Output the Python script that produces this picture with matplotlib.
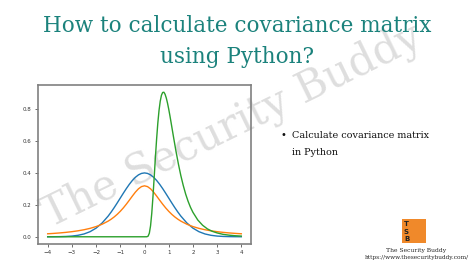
import matplotlib
matplotlib.use("Agg")
import matplotlib.pyplot as plt
from matplotlib.patches import Rectangle

TEAL = "#1b827c"

# x positions where the blue / orange curves were read
x_sym = [-4, -3.75, -3.5, -3.25, -3, -2.75, -2.5, -2.25, -2, -1.75, -1.5, -1.375, -1.25, -1.125, -1,
         -0.875, -0.75, -0.625, -0.5, -0.375, -0.25, -0.125, 0, 0.125, 0.25, 0.375, 0.5, 0.625, 0.75,
         0.875, 1, 1.125, 1.25, 1.375, 1.5, 1.75, 2, 2.25, 2.5, 2.75, 3, 3.25, 3.5, 3.75, 4]
blue = [0.0001, 0.0004, 0.0009, 0.0020, 0.0044, 0.0091, 0.0175, 0.0317, 0.0540, 0.0863, 0.1295,
        0.1550, 0.1826, 0.2119, 0.2420, 0.2720, 0.3011, 0.3282, 0.3521, 0.3718, 0.3867, 0.3958,
        0.3989, 0.3958, 0.3867, 0.3718, 0.3521, 0.3282, 0.3011, 0.2720, 0.2420, 0.2119, 0.1826,
        0.1550, 0.1295, 0.0863, 0.0540, 0.0317, 0.0175, 0.0091, 0.0044, 0.0020, 0.0009, 0.0004, 0.0001]
orange = [0.0187, 0.0211, 0.0240, 0.0275, 0.0318, 0.0372, 0.0439, 0.0525, 0.0637, 0.0784, 0.0979,
          0.1101, 0.1242, 0.1405, 0.1592, 0.1803, 0.2037, 0.2289, 0.2546, 0.2791, 0.2996, 0.3134,
          0.3183, 0.3134, 0.2996, 0.2791, 0.2546, 0.2289, 0.2037, 0.1803, 0.1592, 0.1405, 0.1242,
          0.1101, 0.0979, 0.0784, 0.0637, 0.0525, 0.0439, 0.0372, 0.0318, 0.0275, 0.0240, 0.0211, 0.0187]

green_x = [-4, -2, 0, 0.1, 0.15, 0.2, 0.25, 0.3, 0.35, 0.4, 0.45, 0.5, 0.55, 0.6, 0.65, 0.7, 0.75,
           0.8, 0.85, 0.9, 0.95, 1.0, 1.05, 1.1, 1.2, 1.3, 1.4, 1.5, 1.6, 1.7, 1.8, 1.9, 2.0, 2.2,
           2.4, 2.6, 2.8, 3.0, 3.25, 3.5, 3.75, 4.0]
green = [0, 0, 0, 0.0002, 0.0040, 0.0225, 0.0683, 0.1465, 0.2514, 0.372, 0.4954, 0.610, 0.7098,
         0.789, 0.8469, 0.884, 0.9015, 0.903, 0.8904, 0.867, 0.8355, 0.798, 0.7563, 0.712, 0.622,
         0.535, 0.455, 0.383, 0.321, 0.267, 0.222, 0.184, 0.153, 0.105, 0.072, 0.049, 0.034, 0.024,
         0.015, 0.010, 0.0065, 0.0043]

title_lines = ["How to calculate covariance matrix", "using Python?"]
bullet_lines = ["Calculate covariance matrix", "in Python"]

fig = plt.figure(figsize=(4.74, 2.66), dpi=100)
W, H = 474, 266


def fx(px):
    return px / W


def fy(py):
    return 1 - py / H


# watermark behind everything
fig.text(fx(237), fy(136), "The Security Buddy", ha="center", va="baseline", rotation=26,
         rotation_mode="anchor", fontsize=30, family="DejaVu Serif", color="#dedede", zorder=0)

# title
fig.text(0.5, fy(32), title_lines[0], ha="center", va="baseline", fontsize=15.5,
         family="DejaVu Serif", color=TEAL, zorder=2)
fig.text(0.5, fy(63), title_lines[1], ha="center", va="baseline", fontsize=15.5,
         family="DejaVu Serif", color=TEAL, zorder=2)

# embedded plot
ax = fig.add_axes([fx(38), fy(244), fx(251) - fx(38), fy(85) - fy(244)])
ax.set_zorder(1)
ax.plot(x_sym, blue, color="#1f77b4", lw=1.0)
ax.plot(x_sym, orange, color="#ff7f0e", lw=1.0)
ax.plot(green_x, green, color="#2ca02c", lw=1.0)
ax.set_xticks(range(-4, 5))
ax.set_yticks([0.0, 0.2, 0.4, 0.6, 0.8])
ax.tick_params(labelsize=4.0, length=2.5, width=0.5, pad=2, colors="#333333")
for sp in ax.spines.values():
    sp.set_color("#808080")
    sp.set_linewidth(1.2)
ax.set_facecolor("none")

# bullet text
fig.text(fx(283), fy(137.5), "\u2022", ha="center", va="baseline", fontsize=7, color="#111111")
fig.text(fx(292), fy(138), bullet_lines[0], ha="left", va="baseline", fontsize=6.9,
         family="DejaVu Serif", color="#111111")
fig.text(fx(292), fy(155), bullet_lines[1], ha="left", va="baseline", fontsize=6.9,
         family="DejaVu Serif", color="#111111")

# logo
fig.patches.append(Rectangle((fx(402), fy(243)), fx(24), fy(219) - fy(243),
                             transform=fig.transFigure, facecolor="#f0892a", edgecolor="none"))
for i, ch in enumerate("TSB"):
    fig.text(fx(404), fy(226 + i * 7.5), ch, fontsize=5, fontweight="bold", color="#222222",
             va="baseline")
fig.text(fx(416), fy(252), "The Security Buddy", ha="center", va="baseline", fontsize=4.3,
         family="DejaVu Serif", color="#222222")
fig.text(fx(416.5), fy(259.5), "https://www.thesecuritybuddy.com/", ha="center", va="baseline",
         fontsize=4.2, family="DejaVu Serif", color="#222222")

fig.savefig("out.png", dpi=100)
